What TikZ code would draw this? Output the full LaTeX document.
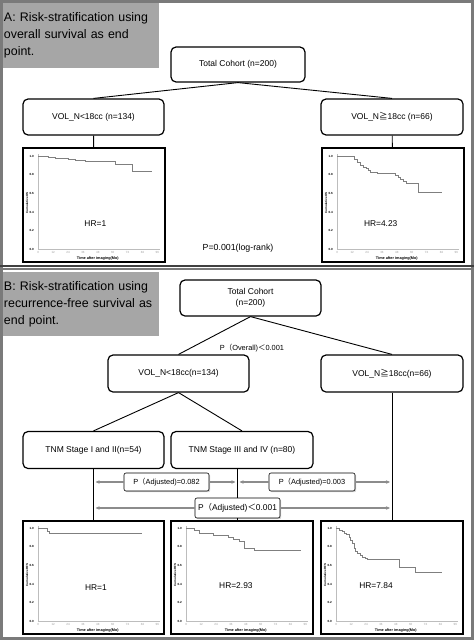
\documentclass[tikz,border=0pt]{standalone}
\usepackage{fontspec}
\setmainfont{Liberation Sans}
\newfontfamily\cjk{Noto Sans CJK SC}
\usetikzlibrary{arrows.meta, shadows}
\definecolor{framegray}{HTML}{7A7A7A}
\definecolor{titlegray}{HTML}{A6A6A6}
\definecolor{curvegray}{HTML}{7F7F7F}
\definecolor{axisgray}{HTML}{BDBDBD}
\newcommand{\kmplot}[5]{%
  \begin{scope}[shift={(#1.south west)}, xshift=16pt, yshift=13.5pt, x=1.24pt, y=93pt]
    \draw[axisgray, line width=0.4pt] (0,1.02) -- (0,0) -- (98,0);
    \foreach \t in {0,12,...,96}
      \draw[axisgray, line width=0.3pt] (\t,0) -- (\t,-0.012) node[ticklbl, below=1pt] {\t};
    \foreach \v/\l in {0/0.0, 0.2/0.2, 0.4/0.4, 0.6/0.6, 0.8/0.8, 1/1.0}
      \node[ticklbl, left=4pt] at (0,\v) {\l};
    \node[ticklbl, rotate=90] at (-9,0.5) {#2};
    \node[ticklbl, font=\fontsize{3.8}{4}\selectfont\bfseries] at (48,-0.1) {Time after imaging(Mo)};
    \draw[curvegray, line width=0.6pt] #3;
    \node[font=\fontsize{8.4}{10}\selectfont] at #4 {#5};
  \end{scope}}

\begin{document}
\begin{tikzpicture}[x=1pt, y=-1pt,
    box/.style={draw, rounded corners=5pt, line width=1.2pt, minimum width=141pt, minimum height=36pt,
      inner sep=0pt, align=center, font=\fontsize{8.5}{11}\selectfont},
    plotbox/.style={draw, line width=1.4pt, minimum width=142pt, minimum height=114pt, inner sep=0pt},
    titlebox/.style={fill=titlegray, minimum width=156pt, minimum height=65pt, text width=154pt,
      inner xsep=1pt, inner ysep=2pt, align=left, font=\fontsize{12.4}{17}\selectfont},
    padj/.style={draw, fill=white, rounded corners=2pt, line width=0.6pt, minimum width=85pt, minimum height=18pt,
      inner sep=0pt, font=\fontsize{7.4}{9}\selectfont,
      drop shadow={shadow xshift=1.2pt, shadow yshift=-1.2pt, fill=black!35}},
    conn/.style={line width=0.9pt},
    garrow/.style={black!45, line width=1.1pt, {Stealth[length=4pt, width=3.5pt]}-},
    ticklbl/.style={font=\fontsize{3}{3}\selectfont\bfseries, inner sep=0.3pt}]
    \useasboundingbox (0,0) rectangle (474,640);
    \fill[white] (0,0) rectangle (474,640);
    \draw[framegray, line width=3pt] (1.5,1.5) rectangle (472.5,638.5);
    \draw[black!75, line width=2pt] (0,265.5) -- (474,265.5);
    \draw[framegray, line width=2.5pt] (0,268.8) -- (474,268.8);

    \node[titlebox] (titleA) at (81,35.5) {A: Risk-stratification using\\overall survival as end\\point.};
    \node[box, minimum width=134pt, minimum height=35pt] (totA) at (238,64.5) {Total Cohort (n=200)};
    \node[box] (volAL) at (93.5,117) {VOL\_N<18cc (n=134)};
    \node[box, minimum width=142pt] (volAR) at (392,117) {VOL\_N{\cjk ≧}18cc (n=66)};
    \node[plotbox] (plotAL) at (94,205) {};
    \node[plotbox] (plotAR) at (393,205) {};
    \node[font=\fontsize{8.8}{10}\selectfont] (pA) at (238,248) {P=0.001(log-rank)};
    \draw[conn] (totA.south) -- (volAL.north);
    \draw[conn] (totA.south) -- (volAR.north);
    \draw[conn] (volAL) -- (plotAL);
    \draw[conn] (volAR) -- (plotAR);
    \kmplot{plotAL}{Cumulative OS}{(0,1) -| (8,0.99) -| (14,0.98) -| (24,0.97) -| (30,0.96) -| (38,0.945)
      -| (62,0.915) -| (76,0.84) -| (92,0.84)}{(46,0.27)}{HR=1}
    \kmplot{plotAR}{Cumulative OS}{(0,1) -| (13.5,0.97) -| (16,0.93) -| (18.8,0.9) -| (21,0.885) -| (23,0.87)
      -| (25,0.85) -| (27,0.83) -| (32,0.82) -| (47,0.79) -| (49,0.77) -| (51,0.75) -| (53,0.73)
      -| (56,0.71) -| (65,0.617) -| (84.7,0.617)}{(35,0.27)}{HR=4.23}

    \node[titlebox, minimum height=64pt] (titleB) at (81,304) {B: Risk-stratification using\\recurrence-free survival as\\end point.};
    \node[box] (totB) at (250.5,298) {Total Cohort\\(n=200)};
    \node[box, minimum height=37pt] (volBL) at (178.5,373.5) {VOL\_N<18cc(n=134)};
    \node[box, minimum width=142pt, minimum height=37pt] (volBR) at (392,373.5) {VOL\_N{\cjk ≧}18cc(n=66)};
    \node[font=\fontsize{7.4}{9}\selectfont] (pOv) at (252,348) {P{\cjk （}Overall){\cjk ＜}0.001};
    \node[box, minimum height=37pt] (tnmA) at (93.5,450) {TNM Stage I and II(n=54)};
    \node[box, minimum width=142pt, minimum height=37pt] (tnmB) at (242,450) {TNM Stage III and IV (n=80)};
    \node[plotbox, minimum width=141pt, minimum height=113pt] (plotBL) at (93.5,577.5) {};
    \node[plotbox, minimum height=113pt] (plotBM) at (242,577.5) {};
    \node[plotbox, minimum height=113pt] (plotBR) at (392,577.5) {};
    \node[padj] (padjA) at (166.5,482) {P{\cjk （}Adjusted)=0.082};
    \node[padj, minimum width=86pt] (padjB) at (312,482) {P{\cjk （}Adjusted)=0.003};
    \node[padj, minimum height=20pt, font=\fontsize{8.4}{10}\selectfont] (padjC) at (237.5,508) {P{\cjk （}Adjusted){\cjk ＜}0.001};
    \coordinate (a1) at (95.5,482);
    \coordinate (a2) at (235.5,482);
    \coordinate (a3) at (239.5,482);
    \coordinate (a4) at (390,482);
    \coordinate (a5) at (95.5,508);
    \coordinate (a6) at (390,508);
    \draw[garrow] (a1) -- (padjA);
    \draw[garrow] (a2) -- (padjA);
    \draw[garrow] (a3) -- (padjB);
    \draw[garrow] (a4) -- (padjB);
    \draw[garrow] (a5) -- (padjC);
    \draw[garrow] (a6) -- (padjC);
    \draw[conn] (totB.south) -- (volBL.north);
    \draw[conn] (totB.south) -- (volBR.north);
    \draw[conn] (volBL.south) -- (tnmA.north);
    \draw[conn] (volBL.south) -- (tnmB.north);
    \draw[conn] (volBR) -- (plotBR);
    \draw[conn] (tnmA) -- (plotBL);
    \draw[conn] (tnmB.south -| padjC.north) -- (padjC.north);
    \draw[conn] (padjC.south) -- (padjC.south |- plotBM.north);
    \kmplot{plotBL}{Cumulative RFS}{(0,1) -| (7,0.97) -| (9,0.945) -| (84,0.945)}{(46.5,0.36)}{HR=1}
    \kmplot{plotBM}{Cumulative RFS}{(0,1) -| (6.7,0.975) -| (10.7,0.95) -| (21.5,0.925) -| (33.6,0.9)
      -| (37.6,0.88) -| (43,0.86) -| (47,0.787) -| (55,0.758) -| (92.7,0.758)}{(40,0.38)}{HR=2.93}
    \kmplot{plotBR}{Cumulative RFS}{(0,1) -| (2.2,0.98) -| (4.5,0.965) -| (6.2,0.95) -| (8,0.93) -| (10.2,0.9)
      -| (11.5,0.87) -| (12.9,0.84) -| (14.3,0.78) -| (15.5,0.755) -| (17,0.73) -| (19,0.71) -| (21,0.69)
      -| (23,0.675) -| (25,0.665) -| (50.5,0.575) -| (64,0.53) -| (85,0.53)}{(32,0.38)}{HR=7.84}
\end{tikzpicture}
\end{document}
